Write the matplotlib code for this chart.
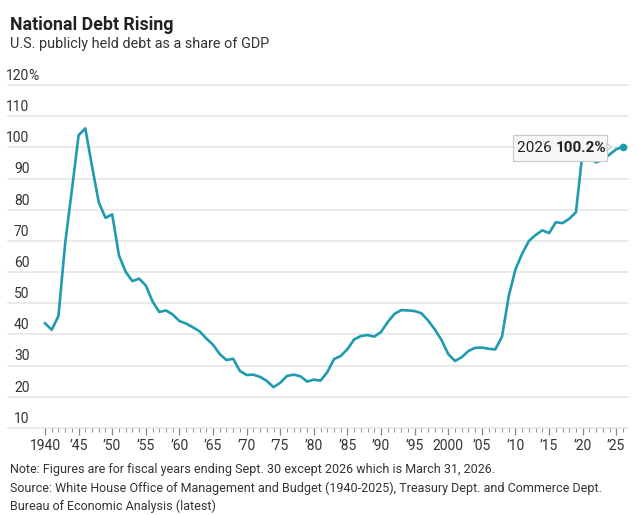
import matplotlib
matplotlib.use("Agg")
import matplotlib.pyplot as plt
from matplotlib.transforms import blended_transform_factory

plt.rcParams["font.family"] = ["Roboto", "DejaVu Sans"]

# data: publicly held debt, % of GDP
years = list(range(1940, 2027))
debt = [43.6, 41.5, 45.9, 69.2, 86.3, 103.9, 106.1, 93.9, 82.4, 77.4,
        78.5, 65.4, 60.1, 57.1, 57.9, 55.7, 50.6, 47.2, 47.7, 46.4,
        44.3, 43.5, 42.3, 41.0, 38.7, 36.7, 33.7, 31.8, 32.2, 28.3,
        27.0, 27.1, 26.4, 25.1, 23.1, 24.5, 26.7, 27.1, 26.6, 24.9,
        25.5, 25.2, 27.9, 32.1, 33.1, 35.3, 38.4, 39.5, 39.8, 39.3,
        40.8, 44.0, 46.6, 47.8, 47.7, 47.5, 46.8, 44.5, 41.6, 38.2,
        33.7, 31.5, 32.7, 34.7, 35.7, 35.8, 35.4, 35.2, 39.3, 52.3,
        60.9, 65.9, 70.0, 71.9, 73.4, 72.5, 76.0, 75.7, 77.1, 79.2,
        98.8, 96.8, 95.2, 96.1, 97.7, 99.4, 100.2]

y_grid = [10, 20, 30, 40, 50, 60, 70, 80, 90, 100, 110, 120]
x_major = list(range(1940, 2026, 5))
x_labels = ["1940", "\u201945", "\u201950", "\u201955", "\u201960", "\u201965",
            "\u201970", "\u201975", "\u201980", "\u201985", "\u201990", "\u201995",
            "2000", "\u201905", "\u201910", "\u201915", "\u201920", "\u201925"]

line_col = "#1f9bb0"
grid_col = "#e6e6e6"
text_col = "#333333"

W, H = 637, 515
fig = plt.figure(figsize=(W / 100, H / 100), dpi=100)

# axes placed so that 1940 -> x=45px, 2026 -> x=623px, 10 -> y=428px, 120 -> y=85px
ax_l, ax_r = 8, 628
ax_b, ax_t = 428, 81.9
ppy = (623 - 45) / 86.0
x0 = 1940 - (45 - ax_l) / ppy
x1 = 2026 + (ax_r - 623) / ppy
ax = fig.add_axes([ax_l / W, 1 - ax_b / H, (ax_r - ax_l) / W, (ax_b - ax_t) / H])
ax.set_xlim(x0, x1)
ax.set_ylim(10, 121)

for v in y_grid:
    ax.axhline(v, color=grid_col, lw=1.2, zorder=0, clip_on=False)

ax.plot(years, debt, color=line_col, lw=1.9, zorder=3, solid_joinstyle="round")
ax.plot(years[-1], debt[-1], "o", color=line_col, ms=4.5, zorder=4)

for s in ax.spines.values():
    s.set_visible(False)
ax.set_yticks([])
ax.set_xticks(x_major)
ax.set_xticklabels(x_labels)
ax.set_xticks(years, minor=True)
ax.tick_params(axis="x", which="major", length=5, width=0.9, color="#888888",
               labelsize=10, labelcolor=text_col, pad=3)
ax.tick_params(axis="x", which="minor", length=3, width=0.8, color="#999999")

# y labels sit above their gridlines, right aligned
tr = blended_transform_factory(fig.transFigure, ax.transData)
for v in y_grid:
    ax.text(29.5 / W, v + 0.7, str(v), transform=tr, ha="right", va="bottom",
            fontsize=10, color=text_col)
ax.text(28.5 / W, 120.7, "%", transform=tr, ha="left", va="bottom",
        fontsize=10, color=text_col)

# callout box for the last point
box = plt.Rectangle((513 / W, 1 - 160.7 / H), 94 / W, 25.7 / H, transform=fig.transFigure,
                    facecolor="#f7f7f7", edgecolor="#c8c8c8", lw=0.8, zorder=6, clip_on=False)
ax.add_patch(box)
tip = plt.Polygon([(607 / W, 1 - 143 / H), (611 / W, 1 - 147 / H), (607 / W, 1 - 151 / H)],
                  closed=True, transform=fig.transFigure, facecolor="#f7f7f7",
                  edgecolor="#c8c8c8", lw=0.8, zorder=6, clip_on=False)
ax.add_patch(tip)
lbl = fig.text(517 / W, 1 - 148 / H, "2026 ", ha="left", va="center", fontsize=11,
               color="#222222", zorder=7)
fig.canvas.draw()
bb = lbl.get_window_extent()
fig.text(bb.x1 / W, 1 - 148 / H, "100.2%", ha="left", va="center", fontsize=11,
         fontweight="bold", color="#222222", zorder=7)

# titles
fig.text(10 / W, 1 - 25 / H, "National Debt Rising", fontsize=12.8, fontweight="bold",
         color="#222222", va="center", ha="left")
fig.text(10 / W, 1 - 44 / H, "U.S. publicly held debt as a share of GDP", fontsize=10.4,
         color=text_col, va="center", ha="left")

# notes
notes = ["Note: Figures are for fiscal years ending Sept. 30 except 2026 which is March 31, 2026.",
         "Source: White House Office of Management and Budget (1940-2025), Treasury Dept. and Commerce Dept.",
         "Bureau of Economic Analysis (latest)"]
for i, t in enumerate(notes):
    fig.text(10 / W, 1 - (470 + 18 * i) / H, t, fontsize=9, color=text_col,
             va="center", ha="left")

fig.savefig("out.png", dpi=100)
